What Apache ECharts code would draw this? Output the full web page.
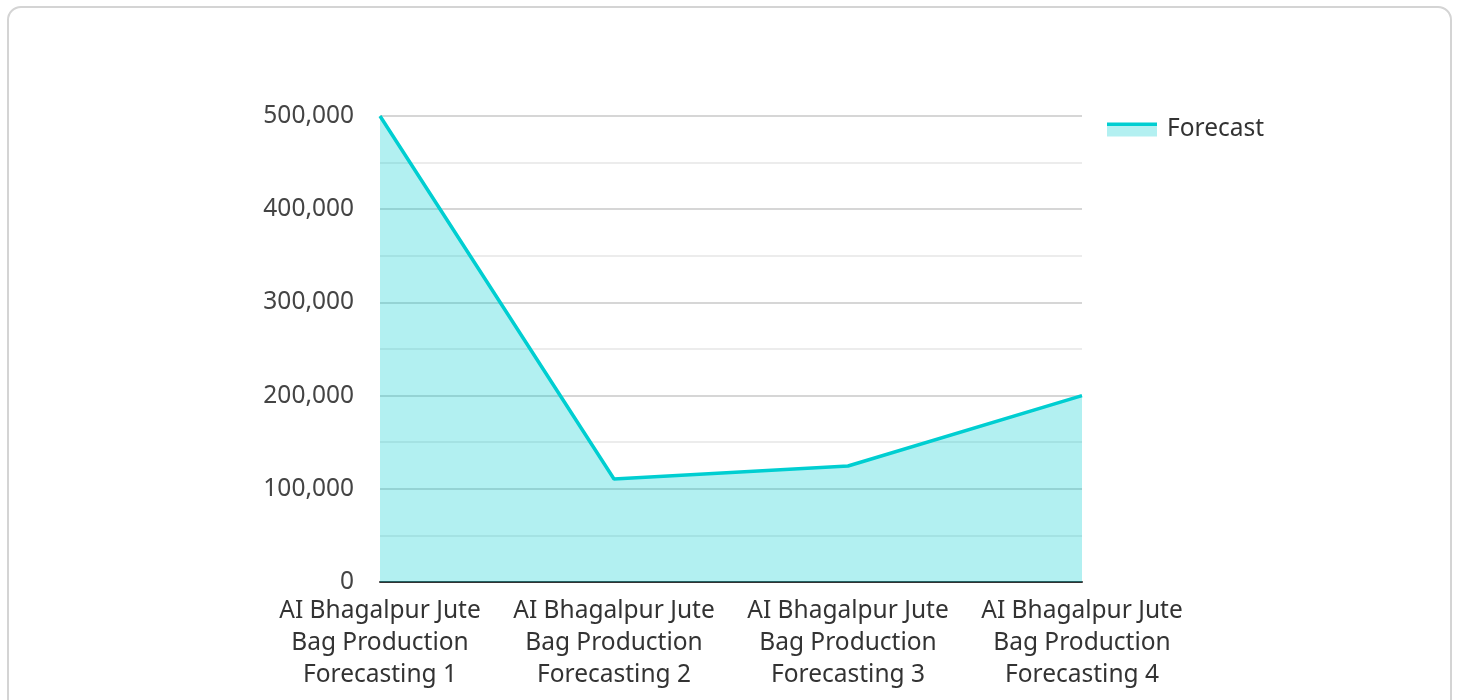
<!DOCTYPE html>
<html>
<head>
<meta charset="utf-8">
<script src="https://cdn.jsdelivr.net/npm/echarts@6/dist/echarts.min.js"></script>
<style>
    html, body { margin: 0; padding: 0; background: #fff; overflow: hidden; }
    #card {
        position: absolute; left: 7px; top: 6px; width: 1445px; height: 720px;
        border: 2px solid #d4d4d4; border-radius: 14px; box-sizing: border-box;
    }
    #chart { position: absolute; left: 0; top: 0; width: 1458px; height: 700px; }
</style>
</head>
<body>
<div id="card"></div>
<div id="chart"></div>
<script>
var categories = [
    'AI Bhagalpur Jute\nBag Production\nForecasting 1',
    'AI Bhagalpur Jute\nBag Production\nForecasting 2',
    'AI Bhagalpur Jute\nBag Production\nForecasting 3',
    'AI Bhagalpur Jute\nBag Production\nForecasting 4'
];
var forecastValues = [500000, 110500, 124500, 200000];
var seriesName = 'Forecast';

var lineColor = '#00CED1';
var myChart = echarts.init(document.getElementById('chart'));

var option = {
    textStyle: { fontFamily: 'Noto Sans' },
    grid: { left: 380, right: 376, top: 116, bottom: 118 },
    legend: {
        data: [seriesName],
        left: 1102,
        top: 112,
        itemWidth: 50,
        itemHeight: 14,
        itemGap: 10,
        icon: 'rect',
        itemStyle: {
            color: {
                type: 'linear', x: 0, y: 0, x2: 0, y2: 1,
                colorStops: [
                    { offset: 0, color: lineColor },
                    { offset: 0.28, color: lineColor },
                    { offset: 0.28, color: '#b3f0f1' },
                    { offset: 1, color: '#b3f0f1' }
                ]
            }
        },
        textStyle: { fontSize: 24.5, color: '#333', fontFamily: 'Noto Sans', padding: [0, 0, 0, 5] }
    },
    xAxis: {
        type: 'category',
        data: categories,
        boundaryGap: false,
        axisLine: { lineStyle: { color: '#333', width: 2 } },
        axisTick: { show: false },
        axisLabel: {
            fontSize: 24.5, color: '#333', lineHeight: 32, margin: 13,
            interval: 0, fontFamily: 'Noto Sans'
        }
    },
    yAxis: {
        type: 'value',
        min: 0,
        max: 500000,
        interval: 100000,
        axisLine: { show: false },
        axisTick: { show: false },
        axisLabel: {
            fontSize: 24.5, color: '#444', margin: 26, fontFamily: 'Noto Sans',
            formatter: function (v) { return v.toLocaleString('en-US'); }
        },
        splitLine: { lineStyle: { color: '#c8c8c8', width: 1.5 } },
        minorTick: { show: false, splitNumber: 2 },
        minorSplitLine: { show: true, lineStyle: { color: '#e6e6e6', width: 1.5 } }
    },
    series: [
        {
            name: seriesName,
            type: 'line',
            data: forecastValues,
            symbol: 'none',
            lineStyle: { color: lineColor, width: 3.5 },
            itemStyle: { color: lineColor },
            areaStyle: { color: lineColor, opacity: 0.3 }
        }
    ]
};

myChart.setOption(option);
</script>
</body>
</html>
